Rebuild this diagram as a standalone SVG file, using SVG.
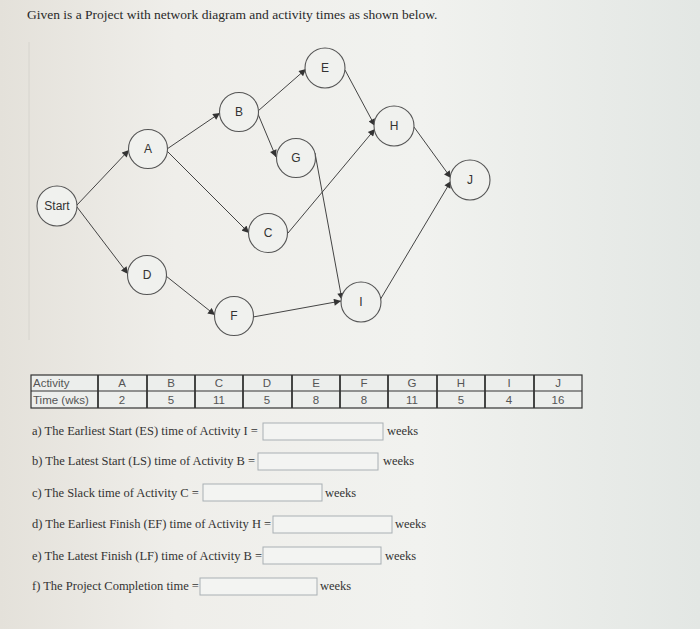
<svg xmlns="http://www.w3.org/2000/svg" width="700" height="629" viewBox="0 0 700 629">
<defs>
<linearGradient id="bg" x1="0" y1="0" x2="1" y2="0">
<stop offset="0" stop-color="#e4e1da"/>
<stop offset="0.25" stop-color="#efeeea"/>
<stop offset="0.6" stop-color="#f1f2ef"/>
<stop offset="1" stop-color="#e3e7e4"/>
</linearGradient>
<marker id="arr" viewBox="0 0 10 10" refX="10" refY="5" markerWidth="8" markerHeight="7" markerUnits="userSpaceOnUse" orient="auto">
<path d="M0,0 L10,5 L0,10 z" fill="#333"/>
</marker>
<style>
.title{font-family:"Liberation Serif","Times New Roman",serif;font-size:13.5px;fill:#2a2a2a}
.q{font-family:"Liberation Serif","Times New Roman",serif;font-size:12.5px;fill:#333}
.nd circle{fill:#f0f1ee;stroke:#555;stroke-width:1.1}
.nd text{font-family:"Liberation Sans",Arial,sans-serif;font-size:12px;fill:#333;text-anchor:middle}
.edge{stroke:#444;stroke-width:1;fill:none;marker-end:url(#arr)}
.cell{font-family:"Liberation Sans",Arial,sans-serif;font-size:11.5px;fill:#555;text-anchor:middle}
.lbl{font-family:"Liberation Sans",Arial,sans-serif;font-size:11.5px;fill:#555}
.box{fill:#f3f4f2;stroke:#a9b0b4;stroke-width:1}
.vl{stroke:#333;stroke-width:1.8}
</style>
</defs>
<rect x="0" y="0" width="700" height="629" fill="url(#bg)"/>
<line x1="29" y1="42" x2="29" y2="340" stroke="#d6d4ce" stroke-width="1"/>
<text class="title" x="27" y="19">Given is a Project with network diagram and activity times as shown below.</text>

<g id="connectors">
<line class="edge" x1="77" y1="205" x2="129" y2="150"/>
<line class="edge" x1="77" y1="207" x2="128" y2="274"/>
<line class="edge" x1="167" y1="149" x2="220" y2="113"/>
<line class="edge" x1="167" y1="151" x2="249" y2="233"/>
<line class="edge" x1="258" y1="111" x2="306" y2="69"/>
<line class="edge" x1="258" y1="114" x2="276" y2="157"/>
<line class="edge" x1="288" y1="233" x2="375" y2="129"/>
<line class="edge" x1="345" y1="70" x2="375" y2="126"/>
<line class="edge" x1="315" y1="153" x2="342" y2="300"/>
<line class="edge" x1="253" y1="317" x2="341" y2="301"/>
<line class="edge" x1="166" y1="276" x2="215" y2="315"/>
<line class="edge" x1="414" y1="127" x2="451" y2="178"/>
<line class="edge" x1="380" y1="300" x2="451" y2="181"/>
</g>

<g id="node-start" class="nd"><circle cx="57" cy="206" r="20"/><text x="57" y="210">Start</text></g>
<g id="node-a" class="nd"><circle cx="148" cy="149" r="19.5"/><text x="148" y="153">A</text></g>
<g id="node-b" class="nd"><circle cx="239" cy="112" r="19.5"/><text x="239" y="116">B</text></g>
<g id="node-e" class="nd"><circle cx="325" cy="68" r="20"/><text x="325" y="72">E</text></g>
<g id="node-g" class="nd"><circle cx="296" cy="158" r="19.5"/><text x="296" y="162">G</text></g>
<g id="node-c" class="nd"><circle cx="268" cy="233" r="19.5"/><text x="268" y="237">C</text></g>
<g id="node-d" class="nd"><circle cx="147" cy="275" r="19.5"/><text x="147" y="279">D</text></g>
<g id="node-f" class="nd"><circle cx="234" cy="316" r="19.5"/><text x="234" y="320">F</text></g>
<g id="node-h" class="nd"><circle cx="394" cy="126" r="20"/><text x="394" y="130">H</text></g>
<g id="node-j" class="nd"><circle cx="470" cy="180" r="20"/><text x="470" y="184">J</text></g>
<g id="node-i" class="nd"><circle cx="361" cy="302" r="20"/><text x="361" y="306">I</text></g>

<g id="table">
<rect x="31" y="375" width="551" height="33" fill="#eceeec" stroke="#333" stroke-width="1.2"/>
<line x1="31" y1="391" x2="582" y2="391" stroke="#333" stroke-width="1.2"/>
<line class="vl" x1="98" y1="375" x2="98" y2="408"/>
<line class="vl" x1="147" y1="375" x2="147" y2="408"/>
<line class="vl" x1="195" y1="375" x2="195" y2="408"/>
<line class="vl" x1="243" y1="375" x2="243" y2="408"/>
<line class="vl" x1="292" y1="375" x2="292" y2="408"/>
<line class="vl" x1="340" y1="375" x2="340" y2="408"/>
<line class="vl" x1="388" y1="375" x2="388" y2="408"/>
<line class="vl" x1="437" y1="375" x2="437" y2="408"/>
<line class="vl" x1="485" y1="375" x2="485" y2="408"/>
<line class="vl" x1="534" y1="375" x2="534" y2="408"/>
<text class="lbl" x="33" y="387">Activity</text>
<text class="lbl" x="33" y="404">Time (wks)</text>
<text class="cell" x="122" y="387">A</text><text class="cell" x="122" y="404">2</text>
<text class="cell" x="171" y="387">B</text><text class="cell" x="171" y="404">5</text>
<text class="cell" x="219" y="387">C</text><text class="cell" x="219" y="404">11</text>
<text class="cell" x="267" y="387">D</text><text class="cell" x="267" y="404">5</text>
<text class="cell" x="316" y="387">E</text><text class="cell" x="316" y="404">8</text>
<text class="cell" x="364" y="387">F</text><text class="cell" x="364" y="404">8</text>
<text class="cell" x="412" y="387">G</text><text class="cell" x="412" y="404">11</text>
<text class="cell" x="461" y="387">H</text><text class="cell" x="461" y="404">5</text>
<text class="cell" x="509" y="387">I</text><text class="cell" x="509" y="404">4</text>
<text class="cell" x="558" y="387">J</text><text class="cell" x="558" y="404">16</text>
</g>

<g id="questions">
<text class="q" x="32" y="435">a) The Earliest Start (ES) time of Activity I =</text>
<rect class="box" x="263" y="423" width="120" height="17"/>
<text class="q" x="387" y="435">weeks</text>
<text class="q" x="32" y="465">b) The Latest Start (LS) time of Activity B =</text>
<rect class="box" x="258" y="453" width="120" height="17"/>
<text class="q" x="383" y="465">weeks</text>
<text class="q" x="32" y="497">c) The Slack time of Activity C =</text>
<rect class="box" x="203" y="484" width="119" height="17"/>
<text class="q" x="325" y="497">weeks</text>
<text class="q" x="32" y="528">d) The Earliest Finish (EF) time of Activity H =</text>
<rect class="box" x="273" y="516" width="119" height="17"/>
<text class="q" x="395" y="528">weeks</text>
<text class="q" x="32" y="560">e) The Latest Finish (LF) time of Activity B =</text>
<rect class="box" x="263" y="547" width="118" height="17"/>
<text class="q" x="385" y="560">weeks</text>
<text class="q" x="32" y="590">f) The Project Completion time =</text>
<rect class="box" x="200" y="578" width="117" height="17"/>
<text class="q" x="320" y="590">weeks</text>
</g>
</svg>
